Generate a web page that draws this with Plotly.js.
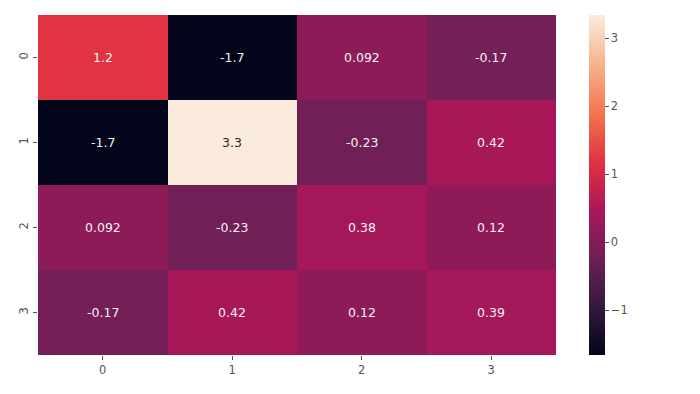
<!DOCTYPE html>
<html><head><meta charset="utf-8">
<script src="https://cdn.plot.ly/plotly-3.0.1.min.js"></script>
<style>html,body{margin:0;padding:0;background:#fff;}#chart{width:700px;height:394px;}</style>
</head><body><div id="chart"></div>
<script>
const xLabels = ['0', '1', '2', '3'];
const yLabels = ['0', '1', '2', '3'];
const row0 = [1.2, -1.66, 0.092, -0.17];
const row1 = [-1.66, 3.34, -0.23, 0.42];
const row2 = [0.092, -0.23, 0.38, 0.12];
const row3 = [-0.17, 0.42, 0.12, 0.39];
const zData = [row0, row1, row2, row3];

const rocket = [
  [0.0, '#03051a'], [0.1429, '#35193e'], [0.2857, '#701f57'], [0.4286, '#ad1759'],
  [0.5714, '#e13342'], [0.7143, '#f37651'], [0.8571, '#f6b48f'], [1.0, '#faebdd']
];
const zmin = -1.66, zmax = 3.34;

const annotations = [];
zData.forEach((row, i) => row.forEach((v, j) => {
  const norm = (v - zmin) / (zmax - zmin);
  annotations.push({
    x: xLabels[j], y: yLabels[i], xref: 'x', yref: 'y', showarrow: false,
    text: String(Number(v.toPrecision(2))),
    font: {family: 'DejaVu Sans', size: 12.5, color: norm > 0.85 ? '#262626' : '#f4f4f4'}
  });
}));

const trace = {
  type: 'heatmap', x: xLabels, y: yLabels, z: zData,
  colorscale: rocket, zmin: zmin, zmax: zmax, hoverinfo: 'none',
  colorbar: {
    thickness: 16, thicknessmode: 'pixels', len: 1, lenmode: 'fraction',
    x: 1.0637, xanchor: 'left', xpad: 0, y: 0.5, yanchor: 'middle', ypad: 0,
    outlinewidth: 0, ticks: 'outside', ticklen: 4, tickcolor: '#555',
    tickvals: [-1, 0, 1, 2, 3], ticktext: ['\u22121', '0', '1', '2', '3'],
    tickfont: {family: 'DejaVu Sans', size: 11.5, color: '#555'}
  }
};

const layout = {
  width: 700, height: 394,
  margin: {l: 38, r: 144, t: 15, b: 39},
  paper_bgcolor: '#fff', plot_bgcolor: '#fff',
  xaxis: {type: 'category', ticks: 'outside', ticklen: 4, tickcolor: '#555', showgrid: false, zeroline: false, showline: false,
    tickfont: {family: 'DejaVu Sans', size: 11.5, color: '#555'}},
  yaxis: {type: 'category', autorange: 'reversed', ticks: 'outside', ticklen: 4, tickcolor: '#555', showgrid: false, zeroline: false, showline: false,
    tickangle: -90, tickfont: {family: 'DejaVu Sans', size: 11.5, color: '#555'}},
  annotations: annotations,
  showlegend: false
};

Plotly.newPlot('chart', [trace], layout, {displayModeBar: false, staticPlot: true});
</script></body></html>
